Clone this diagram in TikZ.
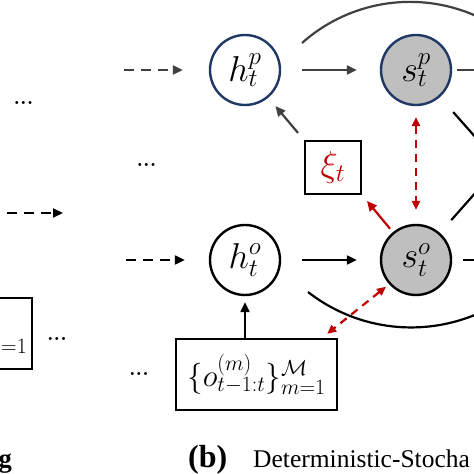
\RequirePackage{fix-cm}
\documentclass[tikz,border=0pt]{standalone}
\usepackage{fontspec}
\newfontfamily\tnr{Liberation Serif}
\usetikzlibrary{arrows.meta,calc}
\definecolor{navy}{HTML}{1F3864}
\definecolor{nodegray}{HTML}{BFBFBF}
\definecolor{darkred}{HTML}{C00000}
\definecolor{arrowgray}{HTML}{404040}
\begin{document}
\begin{tikzpicture}[x=1pt,y=1pt,
  statep/.style={circle, minimum size=70pt, inner sep=0pt, line width=2.4pt, draw=navy, font=\fontsize{36}{36}\selectfont},
  stateo/.style={statep, draw=black},
  boxnode/.style={draw=black, line width=2.4pt, inner sep=0pt},
  arr/.style={line width=2.2pt, -{Triangle[length=10pt,width=9pt]}},
  dasharr/.style={arr, dash pattern=on 10pt off 7pt},
  reddash/.style={line width=2.2pt, darkred, dash pattern=on 8pt off 6pt, {Triangle[length=9pt,width=8pt]}-{Triangle[length=9pt,width=8pt]}},
  plainline/.style={line width=2.2pt},
  dotsnode/.style={inner sep=1pt, font=\fontsize{21}{21}\selectfont\bfseries},
  captext/.style={anchor=base west, inner sep=0pt, font=\tnr\fontsize{25.5}{25.5}\selectfont},
]
\useasboundingbox (0,0) rectangle (474,474);
\clip (0,0) rectangle (474,474);

% state nodes
\node[statep] (hp) at (245,404) {$h_t^p$};
\node[statep, fill=nodegray] (sp) at (416,404) {$s_t^p$};
\node[stateo] (ho) at (245,214) {$h_t^o$};
\node[stateo, fill=nodegray] (so) at (416,214) {$s_t^o$};

% boxes
\node[boxnode, minimum width=56pt, minimum height=53pt, text=darkred, font=\fontsize{36}{36}\selectfont] (xi) at (333,306.5) {$\xi_t$};
\node[boxnode, minimum width=161pt, minimum height=71pt, font=\fontsize{31}{31}\selectfont] (obs) at (256.5,99.5) {$\{o^{(m)}_{t-1:t}\}^{\mathcal{M}}_{m=1}$};
\node[boxnode, minimum width=161pt, minimum height=71pt] (obsprev) at (-48.5,140.5) {};
\node[anchor=east, inner sep=0pt, font=\fontsize{31}{31}\selectfont] (eqone) at (27,127.5) {$\scriptstyle =1$};

% dots
\node[dotsnode] (d1) at (23.5,371) {...};
\node[dotsnode] (d2) at (146.5,309) {...};
\node[dotsnode] (d3) at (139,100) {...};
\node[dotsnode] (d4) at (57,135) {...};

% free ends
\coordinate (inA) at (124,404);
\coordinate (inB0) at (-10,261);
\coordinate (inB1) at (63,261);
\coordinate (inC) at (126,214);
\coordinate (spn) at (560,404);
\coordinate (son) at (560,214);
\coordinate (rt) at (500,309);

% dashed arrows
\draw[dasharr, arrowgray, shorten >=26pt] (inA) -- (hp);
\draw[dasharr] (inB0) -- (inB1);
\draw[dasharr, shorten >=24pt] (inC) -- (ho);

% solid arrows
\draw[arr, arrowgray, shorten <=21pt, shorten >=23pt] (hp) -- (sp);
\draw[arr, shorten <=21pt, shorten >=23pt] (ho) -- (so);
\draw[arr, arrowgray, shorten <=9pt, shorten >=11pt] (xi.north west) -- (hp);
\draw[arr, darkred, shorten <=4.5pt, shorten >=7.5pt] (so) -- (xi.south east);
\draw[arr, shorten >=6pt] (obs.north -| ho) -- (ho);

% red dashed double arrows
\draw[reddash, shorten <=11pt, shorten >=14pt] (sp) -- (so);
\draw[reddash, shorten <=4pt] (so.222) -- ($(obs.north east)+(-11,4)$);

% arcs
\draw[plainline, arrowgray] ($(hp)+(57,27)$) arc[start angle=131.7, end angle=30, radius=162.3];
\draw[plainline] ($(ho)+(63,-32)$) arc[start angle=232.1, end angle=320, radius=168];

% lines to the right
\draw[plainline, arrowgray, shorten <=5pt] (sp) -- (spn);
\draw[plainline, shorten <=11pt] (so) -- (son);
\draw[plainline, shorten <=20pt] (sp) -- (rt);
\draw[plainline, shorten <=17pt] (so) -- (rt);

% caption
\node[anchor=base east, inner sep=0pt, font=\tnr\bfseries\fontsize{26.5}{26.5}\selectfont] (gtail) at (12,6) {g};
\node[anchor=base west, inner sep=0pt, font=\tnr\bfseries\fontsize{32}{32}\selectfont] (blabel) at (188,6) {(b)};
\node[captext] (captionb) at (253,6) {Deterministic-Stocha};
\end{tikzpicture}
\end{document}
